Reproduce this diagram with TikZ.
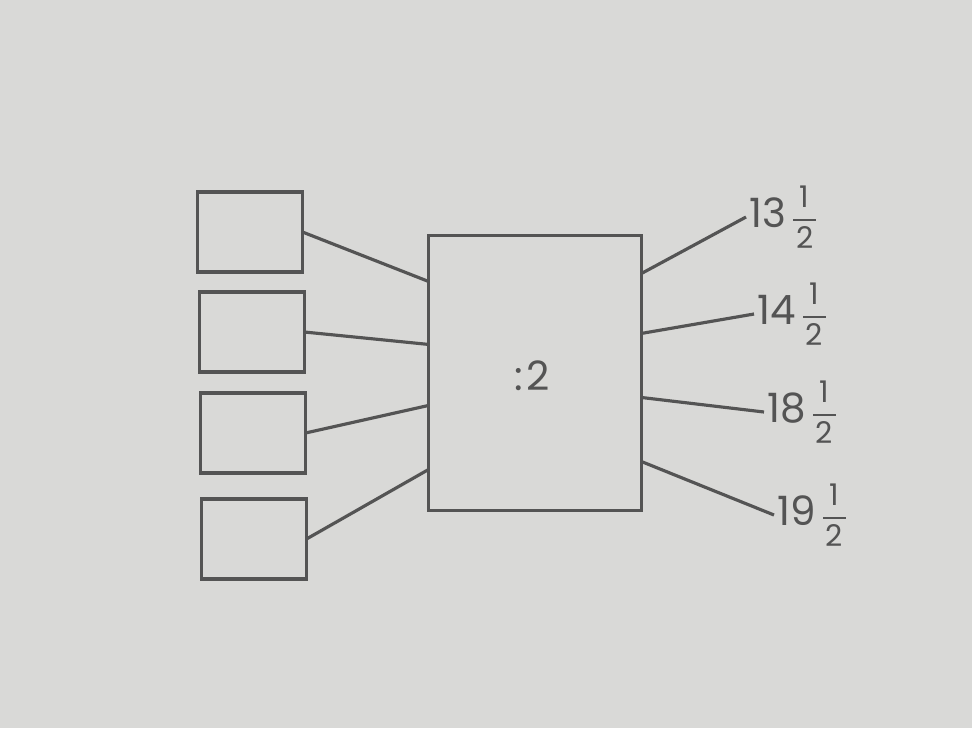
\documentclass[tikz,border=0pt]{standalone}
\usepackage{amsmath}
\usepackage{fontspec}
\setmainfont{Poppins}
\usetikzlibrary{calc, positioning}

\definecolor{paper}{HTML}{D9D9D7}
\definecolor{ink}{HTML}{545454}

% mixed number: whole part, then a half
\newcommand{\halfafter}[1]{#1\hspace{3pt}{\fontsize{17}{20}\selectfont$\genfrac{}{}{1pt}{0}{\text{\kern1.5pt1\kern1.5pt}}{\text{\kern1.5pt2\kern1.5pt}}$}}

\begin{document}
\begin{tikzpicture}[x=0.02cm,y=-0.02cm,
line width=1.8pt,ink,text=ink,
slot/.style={draw,rectangle,minimum width=2.1cm,minimum height=1.6cm,inner sep=0pt,outer sep=0pt},
divbox/.style={draw,rectangle,minimum width=4.26cm,minimum height=5.5cm,inner sep=0pt,outer sep=0pt},
result/.style={anchor=west,inner sep=1pt,font=\fontsize{23}{28}\selectfont}]

  \fill[paper] (0,0) rectangle (972,728);
  \useasboundingbox (0,0) rectangle (972,728);

  % empty boxes on the left
  \node[slot] (b1) at (250,232) {};
  \node[slot] (b2) at (252,332) {};
  \node[slot] (b3) at (253,433) {};
  \node[slot] (b4) at (254,539) {};

  % the machine
  \node[divbox] (mid) at (535,373) {};
  \node[font=\fontsize{23}{28}\selectfont] (op) at (532,376) {:\hspace{2pt}2};

  % points on the machine's sides
  \coordinate (in1)  at ($(mid.north west)!0.167!(mid.south west)$);
  \coordinate (in2)  at ($(mid.north west)!0.396!(mid.south west)$);
  \coordinate (in3)  at ($(mid.north west)!0.618!(mid.south west)$);
  \coordinate (in4)  at ($(mid.north west)!0.851!(mid.south west)$);
  \coordinate (out1) at ($(mid.north east)!0.138!(mid.south east)$);
  \coordinate (out2) at ($(mid.north east)!0.356!(mid.south east)$);
  \coordinate (out3) at ($(mid.north east)!0.589!(mid.south east)$);
  \coordinate (out4) at ($(mid.north east)!0.822!(mid.south east)$);

  % ends of the outputs
  \coordinate (e1) at (746,217);
  \coordinate (e2) at (754,314);
  \coordinate (e3) at (764,412);
  \coordinate (e4) at (774,515);

  % inputs
  \draw (b1.east) -- (in1);
  \draw (b2.east) -- (in2);
  \draw (b3.east) -- (in3);
  \draw (b4.east) -- (in4);

  % outputs
  \draw (out1) -- (e1);
  \draw (out2) -- (e2);
  \draw (out3) -- (e3);
  \draw (out4) -- (e4);

  \node[result] (r1) at (e1) {\halfafter{13}};
  \node[result] (r2) at (e2) {\halfafter{14}};
  \node[result] (r3) at (e3) {\halfafter{18}};
  \node[result] (r4) at (e4) {\halfafter{19}};
\end{tikzpicture}
\end{document}
